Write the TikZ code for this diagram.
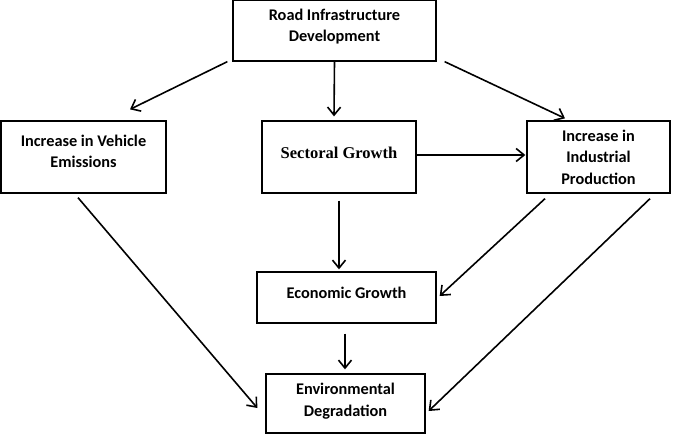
\documentclass[tikz,border=0pt]{standalone}
\usepackage{fontspec}
\setmainfont{Carlito}
\newfontfamily\tnrfont{Liberation Serif}
\usetikzlibrary{arrows.meta}
\begin{document}
\begin{tikzpicture}[x=1pt,y=1pt,
  box/.style={draw, line width=1.3pt, rectangle, inner sep=0pt},
  lbl/.style={align=center, font=\bfseries\fontsize{16.3}{21.5}\selectfont},
  conn/.style={line width=1.6pt, -{Straight Barb[length=8pt,width=13pt,line width=1.6pt]}}]
\useasboundingbox (0,0) rectangle (685,-434);
\node[box, minimum width=203pt, minimum height=61pt,
  label={[lbl,yshift=4pt]center:{Road Infrastructure\\Development}}] (road) at (334.5,-30.5) {};
\node[box, minimum width=165pt, minimum height=72pt,
  label={[lbl,yshift=5.5pt]center:{Increase in Vehicle\\Emissions}}] (veh) at (83.5,-157) {};
\node[box, minimum width=154pt, minimum height=72pt,
  label={[font=\tnrfont\bfseries\fontsize{16.5}{20}\selectfont,yshift=4.5pt]center:{Sectoral Growth}}] (sect) at (339,-157) {};
\node[box, minimum width=143pt, minimum height=72pt,
  label={[lbl,yshift=0pt]center:{Increase in\\Industrial\\Production}}] (ind) at (598.5,-157) {};
\node[box, minimum width=179pt, minimum height=51pt,
  label={[lbl,yshift=5pt]center:{Economic Growth}}] (eco) at (346.5,-297.5) {};
\node[box, minimum width=159pt, minimum height=59pt,
  label={[lbl,yshift=2.5pt]center:{Environmental\\Degradation}}] (env) at (345.5,-403.5) {};

\draw[conn] ([shift={(-5,0)}]road.south west) -- ([shift={(46.5,11)}]veh.north);
\draw[conn] ([shift={(0,0)}]road.south) -- ([shift={(-5,4)}]sect.north);
\draw[conn] ([shift={(8,0)}]road.south east) -- ([shift={(-33.5,2)}]ind.north);
\draw[conn] ([shift={(0,2)}]sect.east) -- ([shift={(-1,2)}]ind.west);
\draw[conn] ([shift={(0,-7)}]sect.south) -- ([shift={(-7.5,2)}]eco.north);
\draw[conn] ([shift={(-53.5,-5)}]ind.south) -- ([shift={(3,1.5)}]eco.east);
\draw[conn] ([shift={(51.5,-5)}]ind.south) -- ([shift={(3,-7.5)}]env.east);
\draw[conn] ([shift={(-5.5,-4)}]veh.south) -- ([shift={(-8,-4.5)}]env.west);
\draw[conn] ([shift={(-1.5,-10)}]eco.south) -- ([shift={(-0.5,4)}]env.north);
\end{tikzpicture}
\end{document}
